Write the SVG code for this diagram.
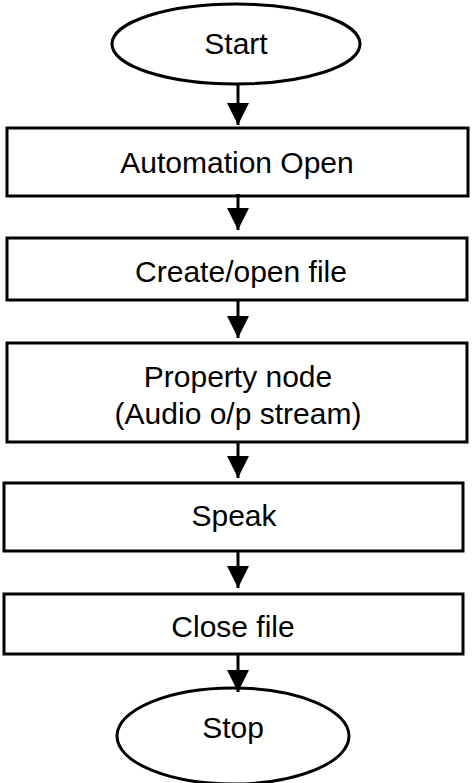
<svg xmlns="http://www.w3.org/2000/svg" width="474" height="783" viewBox="0 0 474 783">
<style>
.shape{fill:#fff;stroke:#000;stroke-width:3}
.lbl{font-family:"Liberation Sans",Arial,sans-serif;font-size:30px;fill:#000;text-anchor:middle}
.conn line{stroke:#000;stroke-width:3}
</style>
<defs>
<marker id="ah" markerUnits="userSpaceOnUse" markerWidth="22" markerHeight="24" refX="22" refY="11" orient="auto">
<path d="M0,0 L22,11 L0,22 Z" fill="#000"/>
</marker>
</defs>
<rect width="474" height="783" fill="#fff"/>
<g id="start"><ellipse class="shape" cx="236" cy="44" rx="124" ry="40"/><text class="lbl" x="236" y="54">Start</text></g>
<g id="automation"><rect class="shape" x="7" y="128" width="461" height="68"/><text class="lbl" x="237" y="173">Automation Open</text></g>
<g id="create"><rect class="shape" x="7" y="238" width="460" height="62"/><text class="lbl" x="241" y="282">Create/open file</text></g>
<g id="property"><rect class="shape" x="7" y="343" width="460" height="99"/><text class="lbl" x="238" y="387">Property node</text><text class="lbl" x="238" y="424">(Audio o/p stream)</text></g>
<g id="speak"><rect class="shape" x="4" y="483" width="459" height="68"/><text class="lbl" x="234" y="526">Speak</text></g>
<g id="close"><rect class="shape" x="4" y="594" width="459" height="60"/><text class="lbl" x="233" y="637">Close file</text></g>
<g id="stop"><ellipse class="shape" cx="233" cy="736" rx="116" ry="48"/><text class="lbl" x="233" y="738">Stop</text></g>
<g class="conn">
<line x1="238" y1="85" x2="238" y2="125" marker-end="url(#ah)"/>
<line x1="238" y1="194" x2="238" y2="230" marker-end="url(#ah)"/>
<line x1="238" y1="301" x2="238" y2="338" marker-end="url(#ah)"/>
<line x1="238" y1="442" x2="238" y2="478" marker-end="url(#ah)"/>
<line x1="238" y1="551" x2="238" y2="588" marker-end="url(#ah)"/>
<line x1="238" y1="654" x2="238" y2="692" marker-end="url(#ah)"/>
</g>
</svg>
